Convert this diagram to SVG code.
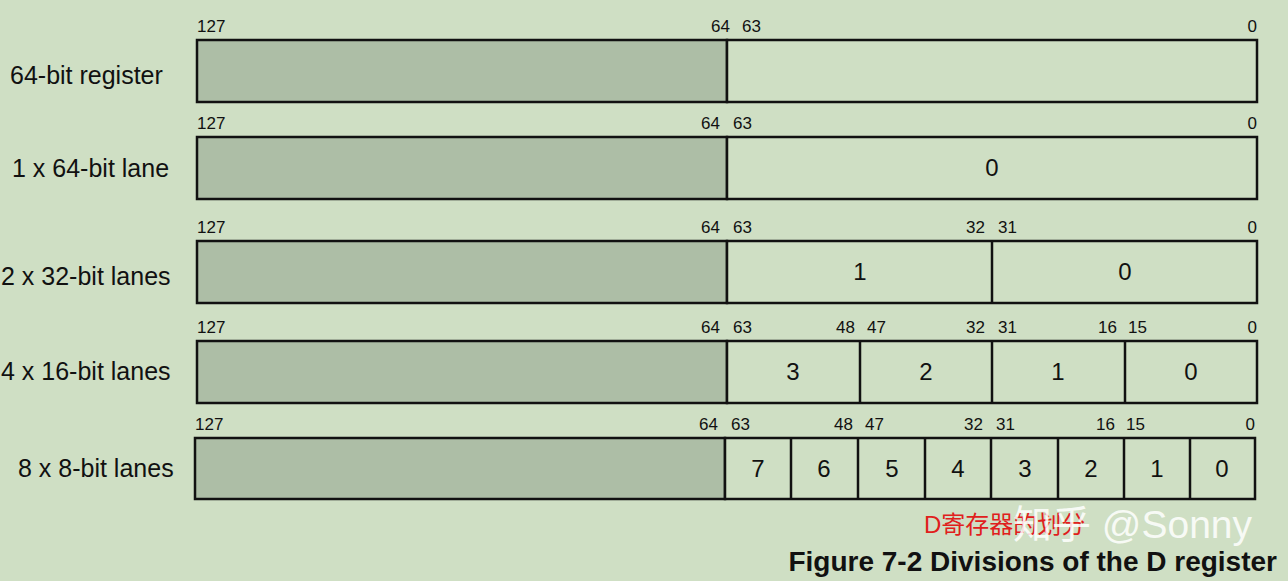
<svg xmlns="http://www.w3.org/2000/svg" width="1288" height="581" viewBox="0 0 1288 581">
<style>
.bg{fill:#cfdfc4}
.hi{fill:#adbea6;stroke:#111;stroke-width:2.5}
.lo{fill:#cfdfc4;stroke:#111;stroke-width:2.5}
.dv{stroke:#111;stroke-width:2.5}
.n{font-family:"Liberation Sans",Arial,sans-serif;font-size:17px;fill:#111}
.e{text-anchor:end}
.lab{font-family:"Liberation Sans",Arial,sans-serif;font-size:25px;fill:#111}
.v{font-family:"Liberation Sans",Arial,sans-serif;font-size:24px;fill:#111;text-anchor:middle}
</style>
<rect class="bg" x="0" y="0" width="1288" height="581"/>
<g id="row1">
<text class="lab" x="10" y="84">64-bit register</text>
<rect class="hi" x="197" y="40" width="530" height="62"/>
<rect class="lo" x="727" y="40" width="530" height="62"/>
<text class="n" x="197" y="32">127</text>
<text class="n e" x="730" y="32">64</text>
<text class="n" x="742" y="32">63</text>
<text class="n e" x="1257" y="32">0</text>
</g>
<g id="row2">
<text class="lab" x="12" y="177">1 x 64-bit lane</text>
<rect class="hi" x="197" y="137" width="530" height="62"/>
<rect class="lo" x="727" y="137" width="530" height="62"/>
<text class="n" x="197" y="129">127</text>
<text class="n e" x="720" y="129">64</text>
<text class="n" x="733" y="129">63</text>
<text class="n e" x="1257" y="129">0</text>
<text class="v" x="992" y="176">0</text>
</g>
<g id="row3">
<text class="lab" x="1" y="285">2 x 32-bit lanes</text>
<rect class="hi" x="197" y="241" width="530" height="62"/>
<rect class="lo" x="727" y="241" width="530" height="62"/>
<line class="dv" x1="992" y1="241" x2="992" y2="303"/>
<text class="n" x="197" y="233">127</text>
<text class="n e" x="720" y="233">64</text>
<text class="n" x="733" y="233">63</text>
<text class="n e" x="985" y="233">32</text>
<text class="n" x="998" y="233">31</text>
<text class="n e" x="1257" y="233">0</text>
<text class="v" x="860" y="280">1</text>
<text class="v" x="1125" y="280">0</text>
</g>
<g id="row4">
<text class="lab" x="1" y="380">4 x 16-bit lanes</text>
<rect class="hi" x="197" y="341" width="530" height="62"/>
<rect class="lo" x="727" y="341" width="530" height="62"/>
<line class="dv" x1="860" y1="341" x2="860" y2="403"/>
<line class="dv" x1="992" y1="341" x2="992" y2="403"/>
<line class="dv" x1="1125" y1="341" x2="1125" y2="403"/>
<text class="n" x="197" y="333">127</text>
<text class="n e" x="720" y="333">64</text>
<text class="n" x="733" y="333">63</text>
<text class="n e" x="855" y="333">48</text>
<text class="n" x="867" y="333">47</text>
<text class="n e" x="985" y="333">32</text>
<text class="n" x="998" y="333">31</text>
<text class="n e" x="1117" y="333">16</text>
<text class="n" x="1128" y="333">15</text>
<text class="n e" x="1257" y="333">0</text>
<text class="v" x="793" y="380">3</text>
<text class="v" x="926" y="380">2</text>
<text class="v" x="1058" y="380">1</text>
<text class="v" x="1191" y="380">0</text>
</g>
<g id="row5">
<text class="lab" x="18" y="477">8 x 8-bit lanes</text>
<rect class="hi" x="195" y="438" width="530" height="61"/>
<rect class="lo" x="725" y="438" width="530" height="61"/>
<line class="dv" x1="791" y1="438" x2="791" y2="499"/>
<line class="dv" x1="858" y1="438" x2="858" y2="499"/>
<line class="dv" x1="925" y1="438" x2="925" y2="499"/>
<line class="dv" x1="991" y1="438" x2="991" y2="499"/>
<line class="dv" x1="1058" y1="438" x2="1058" y2="499"/>
<line class="dv" x1="1124" y1="438" x2="1124" y2="499"/>
<line class="dv" x1="1190" y1="438" x2="1190" y2="499"/>
<text class="n" x="195" y="430">127</text>
<text class="n e" x="718" y="430">64</text>
<text class="n" x="731" y="430">63</text>
<text class="n e" x="853" y="430">48</text>
<text class="n" x="865" y="430">47</text>
<text class="n e" x="983" y="430">32</text>
<text class="n" x="996" y="430">31</text>
<text class="n e" x="1115" y="430">16</text>
<text class="n" x="1126" y="430">15</text>
<text class="n e" x="1255" y="430">0</text>
<text class="v" x="758" y="477">7</text>
<text class="v" x="824" y="477">6</text>
<text class="v" x="892" y="477">5</text>
<text class="v" x="958" y="477">4</text>
<text class="v" x="1025" y="477">3</text>
<text class="v" x="1091" y="477">2</text>
<text class="v" x="1157" y="477">1</text>
<text class="v" x="1222" y="477">0</text>
</g>
<g id="caption">
<text x="924" y="533" font-family="'Liberation Sans','Noto Sans CJK SC',sans-serif" font-size="24" fill="#e0201c">D寄存器的划分</text>
<text x="1013" y="538" font-family="'Liberation Sans','Noto Sans CJK SC',sans-serif" font-size="39" fill="#ffffff" fill-opacity="0.85">知乎 @Sonny</text>
<text x="1277" y="571" text-anchor="end" font-family="'Liberation Sans',Arial,sans-serif" font-size="28" font-weight="bold" fill="#111">Figure 7-2 Divisions of the D register</text>
</g>
</svg>
